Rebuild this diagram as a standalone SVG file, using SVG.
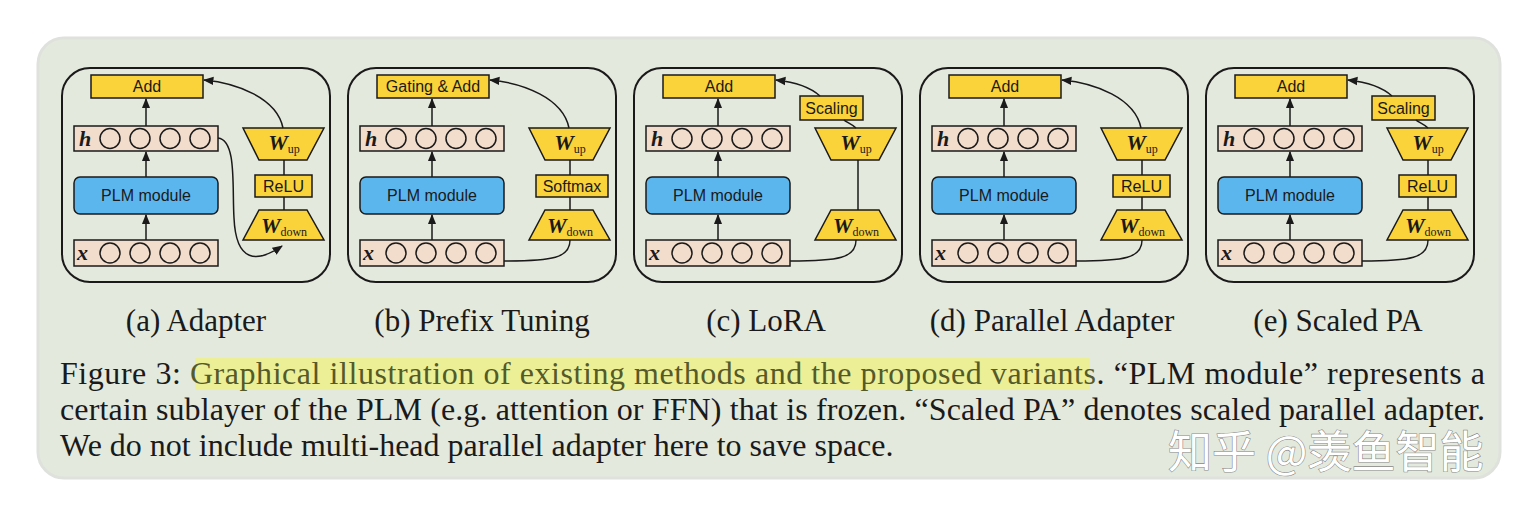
<svg xmlns="http://www.w3.org/2000/svg" width="1536" height="512" viewBox="0 0 1536 512">
<defs>
<style>
.frame{fill:none;stroke:#1a1a1a;stroke-width:2}
.y{fill:#fad23a;stroke:#1a1a1a;stroke-width:1.5}
.row{fill:#f2dccb;stroke:#1a1a1a;stroke-width:1.5}
.plm{fill:#5cb6ee;stroke:#1a1a1a;stroke-width:1.5}
.c{fill:none;stroke:#1a1a1a;stroke-width:1.5}
.ln{fill:none;stroke:#1a1a1a;stroke-width:1.5}
.ar{fill:none;stroke:#1a1a1a;stroke-width:1.5;marker-end:url(#ah)}
.s{font-family:"Liberation Sans",Arial,sans-serif;font-size:16px;fill:#1a1a1a;text-anchor:middle}
.m{font-family:"Liberation Serif","Times New Roman",serif;font-weight:bold;font-style:italic;font-size:22px;fill:#1a1a1a}
.w{font-family:"Liberation Serif","Times New Roman",serif;font-size:16px;fill:#1a1a1a;text-anchor:middle}
.sub{font-size:12px;font-weight:normal;font-style:normal}
.cap{font-family:"Liberation Serif","Times New Roman",serif;font-size:32px;fill:#1a1a1a}
.lab{font-family:"Liberation Serif","Times New Roman",serif;font-size:31px;fill:#1a1a1a;text-anchor:middle}
</style>
<marker id="ah" viewBox="0 0 10 10" refX="9" refY="5" markerWidth="7" markerHeight="7" orient="auto"><path d="M0,1 L10,5 L0,9 z" fill="#1a1a1a"/></marker>
<g id="base">
<rect class="frame" x="0" y="0" width="268" height="214" rx="28"/>
<rect class="row" x="12" y="58" width="144" height="25"/>
<text class="m" x="17" y="78">h</text>
<circle class="c" cx="48" cy="70.5" r="10"/><circle class="c" cx="78" cy="70.5" r="10"/><circle class="c" cx="108" cy="70.5" r="10"/><circle class="c" cx="138" cy="70.5" r="10"/>
<rect class="plm" x="12" y="109" width="144" height="37" rx="6"/>
<text class="s" x="84" y="133">PLM module</text>
<rect class="row" x="12" y="172" width="144" height="26"/>
<text class="m" x="15" y="192">x</text>
<circle class="c" cx="48" cy="185" r="10"/><circle class="c" cx="78" cy="185" r="10"/><circle class="c" cx="108" cy="185" r="10"/><circle class="c" cx="138" cy="185" r="10"/>
<polygon class="y" points="181,60 262,60 245,92 197,92"/>
<text class="w" x="222" y="82"><tspan class="m" font-size="19">W</tspan><tspan class="sub" dy="3">up</tspan></text>
<polygon class="y" points="197,142 245,142 262,172 181,172"/>
<text class="w" x="222" y="165"><tspan class="m" font-size="19">W</tspan><tspan class="sub" dy="3">down</tspan></text>
</g>
</defs>
<rect width="1536" height="512" fill="#ffffff"/>
<rect x="38" y="38" width="1462" height="440" rx="26" fill="#e4e9de" stroke="#dfe2dc" stroke-width="3"/>

<g id="panel-a" transform="translate(62,68)">
<use href="#base"/>
<rect class="y" x="29" y="7" width="112" height="23"/><text class="s" x="85" y="24">Add</text>
<rect class="y" x="193" y="107" width="57" height="22"/><text class="s" x="221.5" y="124">ReLU</text>
</g>
<g id="panel-b" transform="translate(348,68)">
<use href="#base"/>
<rect class="y" x="29" y="7" width="112" height="23"/><text class="s" x="85" y="24">Gating &amp; Add</text>
<rect class="y" x="188" y="107" width="72" height="22"/><text class="s" x="224" y="124">Softmax</text>
</g>
<g id="panel-c" transform="translate(634,68)">
<use href="#base"/>
<rect class="y" x="29" y="7" width="112" height="23"/><text class="s" x="85" y="24">Add</text>
<rect class="y" x="166" y="28" width="63" height="24"/><text class="s" x="197.5" y="46">Scaling</text>
</g>
<g id="panel-d" transform="translate(920,68)">
<use href="#base"/>
<rect class="y" x="29" y="7" width="112" height="23"/><text class="s" x="85" y="24">Add</text>
<rect class="y" x="193" y="107" width="57" height="22"/><text class="s" x="221.5" y="124">ReLU</text>
</g>
<g id="panel-e" transform="translate(1206,68)">
<use href="#base"/>
<rect class="y" x="29" y="7" width="112" height="23"/><text class="s" x="85" y="24">Add</text>
<rect class="y" x="166" y="28" width="63" height="24"/><text class="s" x="197.5" y="46">Scaling</text>
<rect class="y" x="193" y="107" width="57" height="22"/><text class="s" x="221.5" y="124">ReLU</text>
</g>

<g id="connectors">
<g transform="translate(62,68)">
<path class="ar" d="M84,172 V147"/><path class="ar" d="M84,109 V84"/><path class="ar" d="M84,58 V31"/>
<path class="ln" d="M222,92 V107 M222,129 V142"/>
<path class="ar" d="M221,60 C215,30 175,15 142,12"/>
<path class="ar" d="M156,70 C175,72 170,120 172,150 C174,195 195,195 220,178"/>
</g>
<g transform="translate(348,68)">
<path class="ar" d="M84,172 V147"/><path class="ar" d="M84,109 V84"/><path class="ar" d="M84,58 V31"/>
<path class="ln" d="M222,92 V107 M222,129 V142"/>
<path class="ar" d="M221,60 C215,30 175,15 142,12"/>
<path class="ln" d="M156,193 C205,193 222,190 222,172"/>
</g>
<g transform="translate(634,68)">
<path class="ar" d="M84,172 V147"/><path class="ar" d="M84,109 V84"/><path class="ar" d="M84,58 V31"/>
<path class="ln" d="M224,92 V142"/>
<path class="ln" d="M222,60 C218,56 212,54 210,52"/>
<path class="ar" d="M186,28 C175,18 160,14 142,12"/>
<path class="ln" d="M156,193 C205,193 222,190 222,172"/>
</g>
<g transform="translate(920,68)">
<path class="ar" d="M84,172 V147"/><path class="ar" d="M84,109 V84"/><path class="ar" d="M84,58 V31"/>
<path class="ln" d="M222,92 V107 M222,129 V142"/>
<path class="ar" d="M221,60 C215,30 175,15 142,12"/>
<path class="ln" d="M156,193 C205,193 222,190 222,172"/>
</g>
<g transform="translate(1206,68)">
<path class="ar" d="M84,172 V147"/><path class="ar" d="M84,109 V84"/><path class="ar" d="M84,58 V31"/>
<path class="ln" d="M222,92 V107 M222,129 V142"/>
<path class="ln" d="M222,60 C218,56 212,54 210,52"/>
<path class="ar" d="M186,28 C175,18 160,14 142,12"/>
<path class="ln" d="M156,193 C205,193 222,190 222,172"/>
</g>
</g>

<g id="labels">
<text class="lab" x="196" y="331">(a) Adapter</text>
<text class="lab" x="482" y="331">(b) Prefix Tuning</text>
<text class="lab" x="766" y="331">(c) LoRA</text>
<text class="lab" x="1052" y="331">(d) Parallel Adapter</text>
<text class="lab" x="1338" y="331">(e) Scaled PA</text>
<rect x="195" y="358" width="895" height="32" fill="#eef08a" opacity="0.85"/>
<text class="cap" x="60" y="384" textLength="1425" lengthAdjust="spacing">Figure 3: <tspan fill="#555a2a">Graphical illustration of existing methods and the proposed variants</tspan>. “PLM module” represents a</text>
<text class="cap" x="60" y="420" textLength="1425" lengthAdjust="spacing">certain sublayer of the PLM (e.g. attention or FFN) that is frozen. “Scaled PA” denotes scaled parallel adapter.</text>
<text class="cap" x="60" y="456">We do not include multi-head parallel adapter here to save space.</text>
<text x="1168" y="468" font-family="'Noto Sans CJK SC',sans-serif" font-size="44" fill="#ffffff" stroke="#8a8a8a" stroke-width="1.2" paint-order="stroke">知乎 @羡鱼智能</text>
</g>
</svg>
